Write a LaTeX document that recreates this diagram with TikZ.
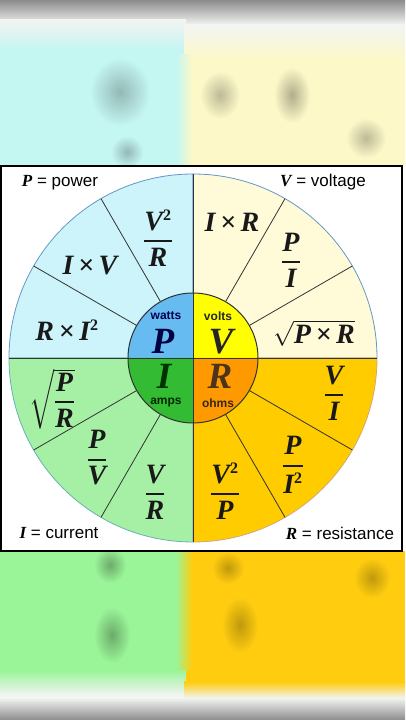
\documentclass[tikz,border=0pt]{standalone}
\usepackage{amsmath}
\usepackage{fontspec}
\setmainfont{Liberation Sans}
\newfontfamily\fmla{Liberation Serif}
\usetikzlibrary{positioning}
\definecolor{bgwhite}{RGB}{242,244,242}
\definecolor{bggray}{RGB}{140,140,140}
\definecolor{bgcyan}{RGB}{196,246,242}
\definecolor{bgyellow}{RGB}{252,248,200}
\definecolor{bggreen}{RGB}{154,244,152}
\definecolor{bgorange}{RGB}{255,204,16}
\definecolor{tlfill}{RGB}{204,244,250}
\definecolor{trfill}{RGB}{255,251,217}
\definecolor{blfill}{RGB}{166,240,166}
\definecolor{brfill}{RGB}{255,204,0}
\definecolor{pfill}{RGB}{102,187,240}
\definecolor{vfill}{RGB}{255,255,0}
\definecolor{ifill}{RGB}{51,187,51}
\definecolor{rfill}{RGB}{255,153,0}
\definecolor{rimblue}{RGB}{100,150,200}
\newcommand\fl[1]{{\fmla\bfseries\itshape #1}}
\newcommand\fv[1]{\text{\fl{#1}}}
\newcommand\sq[1]{^{\text{\fmla\bfseries\fontsize{16}{16}\selectfont #1}}}
\newcommand\frc[2]{\genfrac{}{}{2pt}{0}{#1}{#2}}

\begin{document}
\begin{tikzpicture}[x=1pt, y=1pt,
		divider/.style={draw=black!80, line width=0.8pt},
		fml/.style={font=\fontsize{28}{30}\selectfont, text=black!90, inner sep=0pt},
		big/.style={font=\fmla\bfseries\itshape\fontsize{37}{37}\selectfont, inner sep=0pt,
								text height=25pt, text depth=0pt, anchor=base},
		unit/.style={font=\bfseries\fontsize{12}{12}\selectfont, inner sep=0pt},
		key/.style={font=\fontsize{17}{17}\selectfont, inner sep=0pt},
		blob/.style={draw=none},
	]
		\useasboundingbox (0,0) rectangle (405,720);

		% blurred strip above
		\fill[bgwhite] (0,554) rectangle (405,720);
		\shade[top color=bggray, bottom color=bgwhite] (0,695) rectangle (405,720);
		\shade[top color=bgwhite, bottom color=bgcyan] (0,670) rectangle (186,700);
		\fill[bgcyan] (0,554) rectangle (186,670);
		\shade[top color=bgwhite, bottom color=bgyellow] (184,660) rectangle (405,695);
		\fill[bgyellow] (186,554) rectangle (405,660);
		\shade[left color=bgcyan, right color=bgyellow] (176,554) rectangle (192,665);
		\shade[blob, inner color=bgcyan!75!black, outer color=bgcyan] (120,628) ellipse (30 and 34);
		\shade[blob, inner color=bgcyan!75!black, outer color=bgcyan] (127,568) ellipse (16 and 16);
		\shade[blob, inner color=bgyellow!75!black, outer color=bgyellow] (220,625) ellipse (20 and 24);
		\shade[blob, inner color=bgyellow!70!black, outer color=bgyellow] (292,625) ellipse (18 and 28);
		\shade[blob, inner color=bgyellow!75!black, outer color=bgyellow] (366,582) ellipse (20 and 20);

		% blurred strip below
		\fill[bgwhite] (0,0) rectangle (405,169);
		\shade[top color=bgwhite, bottom color=bggray] (0,0) rectangle (405,22);
		\shade[top color=bggreen, bottom color=bgwhite] (0,25) rectangle (186,50);
		\fill[bggreen] (0,50) rectangle (186,169);
		\shade[top color=bgorange, bottom color=bgwhite] (184,22) rectangle (405,38);
		\fill[bgorange] (186,38) rectangle (405,169);
		\shade[left color=bggreen, right color=bgorange] (176,50) rectangle (192,169);
		\shade[blob, inner color=bggreen!70!black, outer color=bggreen] (110,155) ellipse (16 and 18);
		\shade[blob, inner color=bggreen!70!black, outer color=bggreen] (112,85) ellipse (18 and 28);
		\shade[blob, inner color=bgorange!75!black, outer color=bgorange] (228,152) ellipse (16 and 16);
		\shade[blob, inner color=bgorange!75!black, outer color=bgorange] (240,95) ellipse (18 and 28);
		\shade[blob, inner color=bgorange!75!black, outer color=bgorange] (372,142) ellipse (18 and 20);

		% frame
		\draw[fill=white, line width=2pt] (1,168.5) rectangle (402,554);

		% wheel
		\coordinate (ctr) at (193,362);
		\begin{scope}[shift={(193,362)}]
			\filldraw[fill=tlfill, draw=rimblue, line width=0.8pt] (0,0) -- (90:184) arc[start angle=90, end angle=180, radius=184] -- cycle;
			\filldraw[fill=trfill, draw=rimblue, line width=0.8pt] (0,0) -- (0:184) arc[start angle=0, end angle=90, radius=184] -- cycle;
			\filldraw[fill=blfill, draw=teal!60, line width=0.8pt] (0,0) -- (180:184) arc[start angle=180, end angle=270, radius=184] -- cycle;
			\filldraw[fill=brfill, draw=brown!70, line width=0.8pt] (0,0) -- (270:184) arc[start angle=270, end angle=360, radius=184] -- cycle;
			\foreach \a in {30,60,120,150,210,240,300,330}
				\draw[divider] (\a:65) -- (\a:184);
			\fill[pfill] (0,0) -- (90:65) arc[start angle=90, end angle=180, radius=65] -- cycle;
			\fill[vfill] (0,0) -- (0:65) arc[start angle=0, end angle=90, radius=65] -- cycle;
			\fill[ifill] (0,0) -- (180:65) arc[start angle=180, end angle=270, radius=65] -- cycle;
			\fill[rfill] (0,0) -- (270:65) arc[start angle=270, end angle=360, radius=65] -- cycle;
			\draw[divider] (-184,0) -- (184,0);
			\draw[divider] (0,-184) -- (0,184);
			\draw[black!80, line width=1pt] (0,0) circle[radius=65];
		\end{scope}

		% hub
		\node[unit, text=blue!30!black] (watts) at (166,404) {watts};
		\node[big, text=blue!25!black] (pw) at (163,366) {P};
		\node[unit, text=black!85] (volts) at (218,404) {volts};
		\node[big, text=black!85] (vt) at (221,366) {V};
		\node[big, text=green!20!black] (cu) at (164,331) {I};
		\node[unit, text=green!15!black] (amps) at (166,317) {amps};
		\node[big, text=brown!40!black] (rs) at (220,331) {R};
		\node[unit, text=brown!30!black] (ohms) at (218,317) {ohms};

		% power
		\node[fml] (v2r) at (158,482) {\(\frc{\fv{V}\sq{2}}{\fv{R}}\)};
		\node[fml] (ixv) at (90,454) {\fl{I\,×\,V}};
		\node[fml, text depth=0pt, anchor=base] (rxi2) at (67,379) {\(\fv{R\,×\,I}\sq{2}\)};
		% voltage
		\node[fml] (ixr) at (232,498) {\fl{I\,×\,R}};
		\node[fml] (pdi) at (291,460) {\(\frc{\fv{P}}{\fv{I}}\)};
		\node[fml] (sqpr) at (314,387) {\(\sqrt{\fv{P\,×\,R}}\)};
		% current
		\node[fml] (sqpdr) at (52,321) {\(\sqrt{\frc{\fv{P}}{\fv{R}}}\)};
		\node[fml] (pdv) at (97,262) {\(\frc{\fv{P}}{\fv{V}}\)};
		\node[fml] (vdr) at (155,228) {\(\frc{\fv{V}}{\fv{R}}\)};
		% resistance
		\node[fml] (vdi) at (334,327) {\(\frc{\fv{V}}{\fv{I}}\)};
		\node[fml] (pdi2) at (293,255) {\(\frc{\fv{P}}{\fv{I}\sq{2}}\)};
		\node[fml] (v2p) at (225,229) {\(\frc{\fv{V}\sq{2}}{\fv{P}}\)};

		% keys in the corners
		\node[key] (kp) at (60,537) {\fl{P} = power};
		\node[key] (kv) at (323,538) {\fl{V} = voltage};
		\node[key] (ki) at (59,187) {\fl{I} = current};
		\node[key] (kr) at (340,187) {\fl{R} = resistance};
	\end{tikzpicture}
\end{document}
